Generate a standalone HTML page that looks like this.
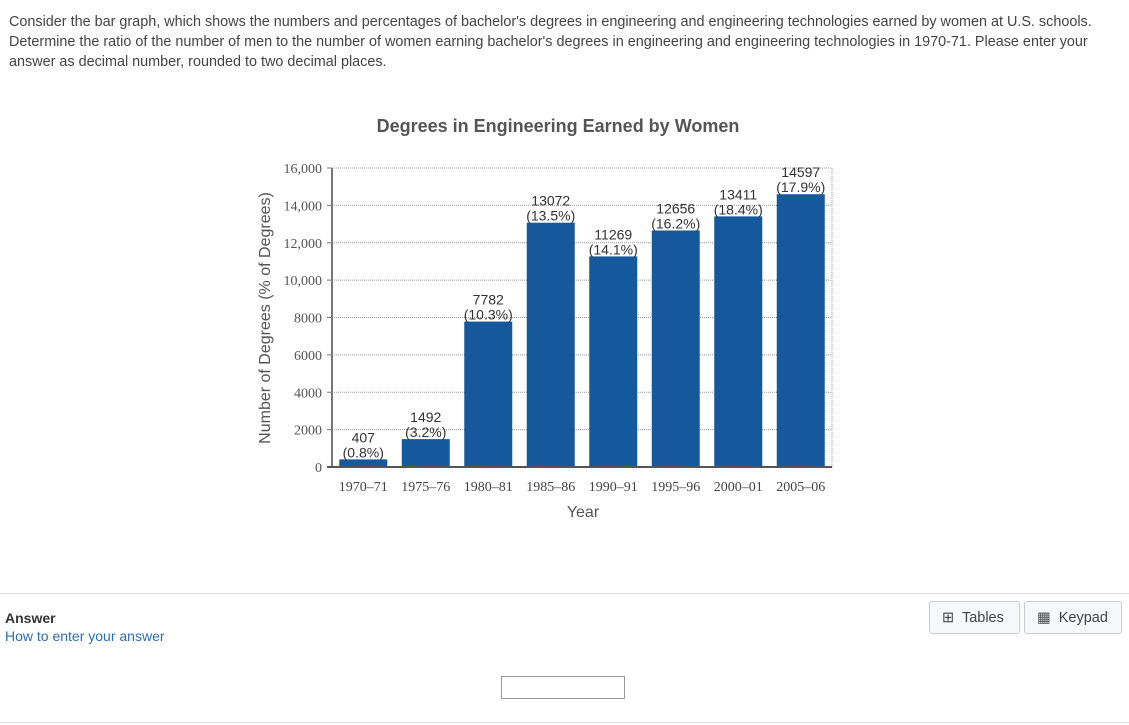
<!DOCTYPE html>
<html><head><meta charset="utf-8"><style>
body{margin:0;width:1129px;height:725px;background:#fff;font-family:"Liberation Sans",sans-serif;position:relative;overflow:hidden;color:#333}
.q{position:absolute;left:9px;top:12px;width:1105px;font-size:14.4px;line-height:20px;color:#444}
.btn{position:absolute;top:601px;height:33px;border:1px solid #ccc;border-radius:3px;background:#f7f8f9;font-size:14.5px;color:#444;line-height:33px;box-sizing:border-box;padding-left:12px}
</style></head><body>
<div class="q">Consider the bar graph, which shows the numbers and percentages of bachelor's degrees in engineering and engineering technologies earned by women at U.S. schools. Determine the ratio of the number of men to the number of women earning bachelor's degrees in engineering and engineering technologies in 1970-71. Please enter your answer as decimal number, rounded to two decimal places.</div>
<svg id="chart" style="position:absolute;left:0;top:0" width="1129" height="590"></svg>
<div style="position:absolute;left:0;top:593px;width:1129px;border-top:1px solid #ddd"></div>
<div style="position:absolute;left:5px;top:610px;font-size:14px;font-weight:bold;color:#333">Answer</div>
<div style="position:absolute;left:5px;top:628px;font-size:14px;color:#2a6fb5">How to enter your answer</div>
<div class="btn" style="left:929px;width:91px">⊞&nbsp; Tables</div>
<div class="btn" style="left:1024px;width:98px">▦&nbsp; Keypad</div>
<div style="position:absolute;left:501px;top:676px;width:124px;height:23px;border:1px solid #999;box-sizing:border-box"></div>
<div style="position:absolute;left:0;top:722px;width:1129px;border-top:1px solid #ddd"></div>
<script>
const categories=["1970–71","1975–76","1980–81","1985–86","1990–91","1995–96","2000–01","2005–06"];
const values=[407,1492,7782,13072,11269,12656,13411,14597];
const percents=["0.8%","3.2%","10.3%","13.5%","14.1%","16.2%","18.4%","17.9%"];
const ticks=[0,2000,4000,6000,8000,10000,12000,14000,16000];
const tickLabels=["0","2000","4000","6000","8000","10,000","12,000","14,000","16,000"];
const svg=document.getElementById('chart');const NS="http://www.w3.org/2000/svg";
const x0=332,x1=832,y0=467,y1=168,ymax=16000;
const y=v=>y0-(v/ymax)*(y0-y1);
const band=(x1-x0)/categories.length;
const xc=i=>x0+band*(i+0.5);
function mk(t,a,txt){const e=document.createElementNS(NS,t);for(const k in a)e.setAttribute(k,a[k]);if(txt!=null)e.textContent=txt;svg.appendChild(e);return e;}
let e=mk('text',{x:558,y:132,'text-anchor':'middle','font-size':18,'font-weight':'bold',fill:'#555','font-family':'Liberation Sans'},'Degrees in Engineering Earned by Women');

ticks.forEach((t,i)=>{
 if(t>0){e=mk('line',{x1:x0,x2:x1,y1:y(t),y2:y(t),stroke:'#999','stroke-dasharray':'1,1'});}
 e=mk('line',{x1:x0-5,x2:x0,y1:y(t),y2:y(t),stroke:'#777'});
 e=mk('text',{x:x0-10,y:y(t)+5,'text-anchor':'end','font-size':14,fill:'#555','font-family':'Liberation Serif'},tickLabels[i]);
 
});
e=mk('line',{x1:x1,x2:x1,y1:y1,y2:y0,stroke:'#999','stroke-dasharray':'1,1'});
values.forEach((v,i)=>{
 const bw=48;
 e=mk('rect',{x:xc(i)-bw/2,y:y(v),width:bw,height:y0-y(v),fill:'#16589c'});
 
 e=mk('text',{x:xc(i),y:y(v)-17,'text-anchor':'middle','font-size':14,fill:'#333'},String(v));
 
 e=mk('text',{x:xc(i),y:y(v)-2,'text-anchor':'middle','font-size':14,fill:'#333'},'('+percents[i]+')');
 
 e=mk('text',{x:xc(i),y:y0+24,'text-anchor':'middle','font-size':14,fill:'#444','font-family':'Liberation Serif'},categories[i]);
 
});
e=mk('line',{x1:x0,x2:x0,y1:y1,y2:y0,stroke:'#777','stroke-width':2});
e=mk('line',{x1:x0-5,x2:x1,y1:y0,y2:y0,stroke:'#555','stroke-width':2});
e=mk('text',{x:583,y:517,'text-anchor':'middle','font-size':16,fill:'#555'},'Year');
e=mk('text',{x:0,y:0,transform:'translate(270,318) rotate(-90)','text-anchor':'middle','font-size':16,fill:'#555'},'Number of Degrees (% of Degrees)');
</script>
</body></html>
